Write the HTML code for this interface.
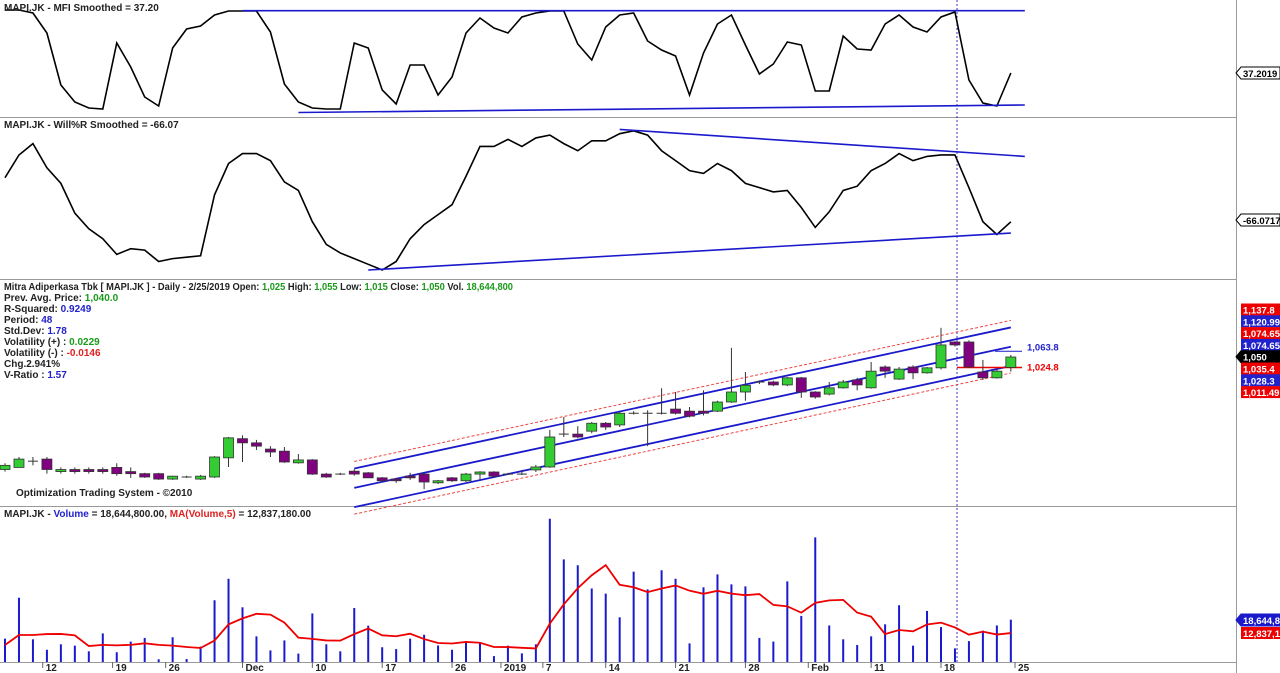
<!DOCTYPE html>
<html><head><meta charset="utf-8"><style>
html,body{margin:0;padding:0;background:#fff;}
svg{display:block;font-family:"Liberation Sans",Arial,sans-serif;}
</style></head><body>
<svg id="c" width="1280" height="673" viewBox="0 0 1280 673" xmlns="http://www.w3.org/2000/svg">
<defs>
<clipPath id="cp1"><rect x="0" y="8" width="1236" height="110"/></clipPath>
</defs>
<rect x="0" y="0" width="1280" height="673" fill="#fff"/>
<line x1="0" y1="117.5" x2="1236" y2="117.5" stroke="#999"/>
<line x1="0" y1="279.5" x2="1236" y2="279.5" stroke="#999"/>
<line x1="0" y1="506.5" x2="1236" y2="506.5" stroke="#999"/>
<line x1="0" y1="662.5" x2="1236" y2="662.5" stroke="#999"/>
<line x1="1236.5" y1="0" x2="1236.5" y2="673" stroke="#999"/>
<line x1="957" y1="0" x2="957" y2="662" stroke="#3333cc" stroke-dasharray="2,2"/>
<g id="g" font-size="10" font-weight="bold"></g>
<text x="4" y="11" font-size="10" font-weight="bold" fill="#222">MAPI.JK - MFI Smoothed = 37.20</text>
<text x="4" y="128" font-size="10" font-weight="bold" fill="#222">MAPI.JK - Will%R Smoothed = -66.07</text>
<g font-size="10" font-weight="bold" fill="#222">
<text x="4" y="290" textLength="509" lengthAdjust="spacingAndGlyphs">Mitra Adiperkasa Tbk [ MAPI.JK ] - Daily - 2/25/2019 Open: <tspan fill="#1a9a1a">1,025</tspan> High: <tspan fill="#1a9a1a">1,055</tspan> Low: <tspan fill="#1a9a1a">1,015</tspan> Close: <tspan fill="#1a9a1a">1,050</tspan> Vol. <tspan fill="#1a9a1a">18,644,800</tspan></text>
<text x="4" y="301">Prev. Avg. Price: <tspan fill="#1a9a1a">1,040.0</tspan></text>
<text x="4" y="312">R-Squared: <tspan fill="#2222cc">0.9249</tspan></text>
<text x="4" y="323">Period: <tspan fill="#2222cc">48</tspan></text>
<text x="4" y="334">Std.Dev: <tspan fill="#2222cc">1.78</tspan></text>
<text x="4" y="345">Volatility (+) : <tspan fill="#1a9a1a">0.0229</tspan></text>
<text x="4" y="356">Volatility (-) : <tspan fill="#dd2222">-0.0146</tspan></text>
<text x="4" y="367">Chg.2.941%</text>
<text x="4" y="378">V-Ratio : <tspan fill="#2222cc">1.57</tspan></text>
</g>
<text x="16" y="496" font-size="10" font-weight="bold" fill="#222">Optimization Trading System - ©2010</text>
<text x="4" y="517" font-size="10" font-weight="bold" fill="#222">MAPI.JK - <tspan fill="#2222cc">Volume</tspan> = 18,644,800.00, <tspan fill="#dd2222">MA(Volume,5)</tspan> = 12,837,180.00</text>
</svg>
<script>
const mfiVals=[100,100,97,77,25,8,2,1,67,43,13,4,62,81,84,95,99,99,99,78,26,8,2,1,1,67,62,20,6,45,45,15,33,77,92,82,77,93,97,99,99,66,50,83,95,97,69,60,54,15,57,86,95,65,36,46,68,65,19,19,74,61,60,86,95,83,78,93,98,30,7,4,37];
const wrVals=[-35,-19,-11,-28,-39,-60,-71,-78,-89,-85,-86,-94,-92,-91,-90,-47,-25,-18,-18,-23,-38,-44,-66,-82,-88,-92,-96,-100,-94,-78,-68,-61,-54,-34,-13,-13,-8,-13,-7,-5,-11,-16,-9,-9,-4,-2,-5,-16,-23,-30,-32,-25,-30,-39,-42,-45,-44,-56,-70,-59,-44,-41,-30,-25,-18,-23,-20,-19,-19,-42,-66,-75,-66.07];
const opens=[780,785,800,805,775,780,780,780,785,775,770,770,757,762,757,762,808,854,844,829,824,796,803,769,769,776,772,760,757,764,769,748,760,753,769,774,769,769,779,786,865,865,872,891,887,915,915,915,925,920,920,920,942,966,990,990,983,1000,966,961,976,995,976,1026,997,1026,1012,1024,1086,1086,1014,1000,1025];
const highs=[795,810,810,810,785,785,785,785,795,785,772,772,765,765,767,812,858,862,851,836,834,817,805,772,772,781,774,762,760,772,772,755,762,772,776,776,772,779,791,875,906,884,894,894,918,920,922,975,966,930,970,945,1072,1014,994,993,1002,1002,968,990,995,1000,1038,1030,1026,1030,1026,1120,1088,1090,1043,1020,1055];
const lows=[775,785,790,770,770,770,770,770,765,760,760,755,755,760,755,760,786,798,827,810,796,794,767,760,767,765,760,750,748,755,733,745,750,750,755,762,767,767,774,784,858,855,867,875,882,912,836,912,912,905,910,918,940,945,985,980,980,952,950,958,974,970,974,1000,995,997,1010,1020,1075,1024,995,998,1015];
const closes=[790,805,800,780,780,775,775,775,770,770,762,757,764,762,764,810,856,844,836,822,798,803,769,762,769,769,760,753,753,760,750,753,753,769,774,764,769,769,786,858,865,858,891,882,915,915,915,915,915,908,915,942,966,982,990,983,1000,966,954,976,990,983,1016,1016,1021,1012,1024,1079,1079,1026,1000,1016,1050];
const priorVolumes=[6.3,10,3.4,7.5];
const volumes=[10.3,28.3,10.0,5.4,7.8,7.2,4.7,12.6,4.3,9.0,10.6,1.2,10.9,1.3,6.8,27.2,36.7,24.1,11.3,5.1,9.5,3.7,21.4,7.8,4.7,23.8,16.0,6.5,5.7,10.3,12.0,7.3,5.4,9.2,8.5,2.6,7.2,3.8,7.8,63.1,45.2,42.6,32.4,30.1,19.7,39.8,32.0,40.4,36.7,8.2,32.9,38.6,34.2,33.3,10.6,9.0,35.5,20.3,54.9,16.1,10.0,7.5,11.3,16.6,25.0,7.2,22.5,15.4,6.0,9.2,13.8,16.1,18.6448];
const xLabels=["12","19","26","Dec","10","17","26","2019","7","14","21","28","Feb","11","18","25"];
const xLabelBars=[2.7,7.7,11.5,17,22,27,32,35.5,38.5,43,48,53,57.5,62,67,72.3];
const mfiTop=[[17,99.3],[73,99.3]];
const mfiBottom=[[21,-2.5],[73,5]];
const wrUpper=[[44,-1],[73,-20]];
const wrLower=[[26,-100],[72,-74]];
const regStart=[25,736];
const regEnd=[72,1074.65];
const regBand=46.3;
const regOuter=63.2;
const priceAxisLabels=["1,137.8","1,120.99","1,074.65","1,074.65","1,050","1,035.4","1,028.3","1,011.49"];
const priceAxisColors=["#e00","#22c","#e00","#22c","#000","#e00","#22c","#e00"];

const NS="http://www.w3.org/2000/svg";
const G=document.getElementById('g');
const xb=i=>5+13.97*i;
const yM=v=>10+(100-v)*1.0;
const yW=v=>128-v*1.42;
const yP=p=>357-(p-1050)/2.4;
const yV=v=>662-v*2.27;
function mk(t,a,parent){const e=document.createElementNS(NS,t);for(const k in a)e.setAttribute(k,a[k]);(parent||G).appendChild(e);return e;}

const mfiG=mk('g',{'clip-path':'url(#cp1)'});
let e=mk('polyline',{points:mfiVals.map((v,i)=>xb(i)+','+yM(v)).join(' '),fill:'none',stroke:'#000','stroke-width':1.6},mfiG);


e=mk('line',{x1:xb(mfiTop[0][0]),y1:yM(mfiTop[0][1]),x2:xb(mfiTop[1][0]),y2:yM(mfiTop[1][1]),stroke:'#1a1acc','stroke-width':1.6});


e=mk('line',{x1:xb(mfiBottom[0][0]),y1:yM(mfiBottom[0][1]),x2:xb(mfiBottom[1][0]),y2:yM(mfiBottom[1][1]),stroke:'#1a1acc','stroke-width':1.6});



e=mk('polyline',{points:wrVals.map((v,i)=>xb(i)+','+yW(v)).join(' '),fill:'none',stroke:'#000','stroke-width':1.6});


e=mk('line',{x1:xb(wrUpper[0][0]),y1:yW(wrUpper[0][1]),x2:xb(wrUpper[1][0]),y2:yW(wrUpper[1][1]),stroke:'#1a1acc','stroke-width':1.6});


e=mk('line',{x1:xb(wrLower[0][0]),y1:yW(wrLower[0][1]),x2:xb(wrLower[1][0]),y2:yW(wrLower[1][1]),stroke:'#1a1acc','stroke-width':1.6});



function regLine(off,name,stroke,dash,w){
  const a=mk('line',{x1:xb(regStart[0]),y1:yP(regStart[1]+off),x2:xb(regEnd[0]),y2:yP(regEnd[1]+off),stroke:stroke,'stroke-width':w});
  if(dash)a.setAttribute('stroke-dasharray',dash);
  
  
}
regLine(regOuter,'regression-outer-upper','#e44','3,2',1);
regLine(-regOuter,'regression-outer-lower','#e44','3,2',1);
regLine(regBand,'regression-upper','#1a1acc','',1.8);
regLine(0,'regression-middle','#1a1acc','',1.8);
regLine(-regBand,'regression-lower','#1a1acc','',1.8);
e=mk('line',{x1:995,y1:yP(1063.8),x2:1022,y2:yP(1063.8),stroke:'#1a1acc','stroke-width':1});


e=mk('line',{x1:957,y1:yP(1024.8),x2:1022,y2:yP(1024.8),stroke:'#e00','stroke-width':1.6});


e=mk('text',{x:1027,y:yP(1063.8)-1,fill:'#2222cc','font-size':9.5});e.textContent='1,063.8';


e=mk('text',{x:1027,y:yP(1024.8)+3,fill:'#e00','font-size':9.5});e.textContent='1,024.8';



for(let i=0;i<opens.length;i++){
  const x=xb(i),o=opens[i],c=closes[i];
  const w=mk('line',{x1:x,y1:yP(highs[i]),x2:x,y2:yP(lows[i]),stroke:'#333','stroke-width':1});
  
  
  const t=Math.min(yP(o),yP(c)),h=Math.abs(yP(o)-yP(c));
  if(h<1.5){
    const d=mk('line',{x1:x-5,y1:yP(c),x2:x+5,y2:yP(c),stroke:'#333','stroke-width':1});
    
    
  } else {
    const r=mk('rect',{x:x-5,y:t,width:10,height:h,fill:c>o?'#33cc33':'#800080',stroke:'#333','stroke-width':0.8});
    
    
  }
}

for(let i=0;i<volumes.length;i++){
  const b=mk('line',{x1:xb(i),y1:yV(volumes[i]),x2:xb(i),y2:662,stroke:'#1a1acc','stroke-width':2});
  
  
}
const allV=priorVolumes.concat(volumes);
const ma=volumes.map((v,i)=>{const s=allV.slice(i,i+5);return s.reduce((a,b)=>a+b,0)/s.length;});
e=mk('polyline',{points:ma.map((v,i)=>xb(i)+','+yV(v)).join(' '),fill:'none',stroke:'#e00','stroke-width':1.8});



xLabels.forEach((l,k)=>{
  const x=xb(xLabelBars[k]);
  const t=mk('line',{x1:x,y1:662,x2:x,y2:668,stroke:'#666'});
  
  
  const tx=mk('text',{x:x+3,y:671,fill:'#222','font-size':10});tx.textContent=l;
  
  
});

function tag(y,txt,bg,fg,name,ptr){
  const g=mk('g',{});
  
  
  if(ptr) mk('path',{d:`M1236 ${y} L1241 ${y-6} L1280 ${y-6} L1280 ${y+6} L1241 ${y+6} Z`,fill:bg,stroke:ptr},g);
  else mk('rect',{x:1241,y:y-6,width:40,height:12,fill:bg},g);
  const t=mk('text',{x:1243,y:y+4,fill:fg,'font-size':9.5},g);t.textContent=txt;
}
tag(73,'37.2019','#fff','#000','mfi-value-tag','#000');
tag(220,'-66.0717','#fff','#000','willr-value-tag','#000');
priceAxisLabels.forEach((l,k)=>{
  tag(309.5+k*11.8,l,priceAxisColors[k],'#fff','price-axis-tag',k===4?'#000':null);
});
tag(620,'18,644,8','#1a1acc','#fff','volume-value-tag','#1a1acc');
tag(633,'12,837,1','#e00','#fff','volume-ma-tag',null);
</script>
</body></html>
